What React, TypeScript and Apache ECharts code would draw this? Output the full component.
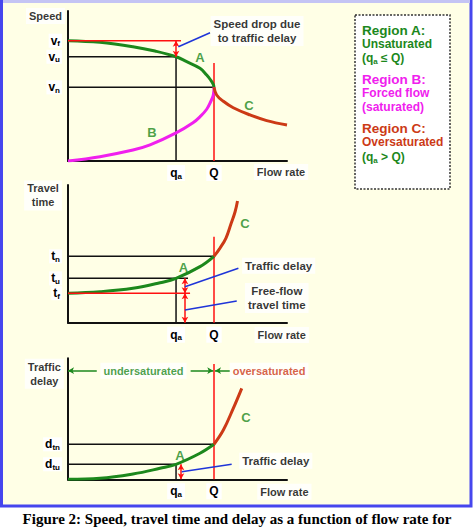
import React, { useEffect, useRef } from 'react';
import * as echarts from 'echarts';

// ---------- data (flow in % of capacity Q, y in % of axis height) ----------
const FLOW_QA = 74;
const FLOW_Q = 100;
const FLOW_MAX = 150;

// speed panel
const speedTickValues = [80.2, 69.5, 49.1]; // v_f, v_u, v_n
const speedTickSubs = ['f', 'u', 'n'];
const speedA = [[0, 80.2], [21.9, 79.1], [44.5, 76.2], [59.6, 73.3], [74, 69.5], [81.3, 66.2], [90.4, 61.8], [95, 57.3], [97.7, 54], [99.5, 51.1], [100, 49.1]];
const speedB = [[0, 0], [21.9, 2.9], [44.5, 7.3], [56.2, 10.7], [74, 18.7], [85.6, 25.5], [90.4, 29.5], [95, 34.5], [97.7, 39.5], [99.5, 44], [100, 49.1]];
const speedC = [[100, 49.1], [101.8, 44], [106.4, 39.8], [113.2, 35.5], [124.7, 30.7], [136.1, 26.9], [150, 24]];

// travel time panel
const travelTickValues = [48.2, 32.2, 21.4]; // t_n, t_u, t_f
const travelTickSubs = ['n', 'u', 'f'];
const travelA = [[0, 21.4], [21.9, 22.5], [44.5, 25], [63, 29], [74, 32.2], [90.4, 40.7], [100, 48.2]];
const travelC = [[100, 48.2], [104.1, 54.2], [108.2, 61.5], [111.6, 71.7], [114.4, 80.4], [116.1, 88.4]];

// delay panel
const delayTickValues = [28.9, 12.4]; // d_tn, d_tu
const delayTickSubs = ['tn', 'tu'];
const delayA = [[0, 0], [21.9, 0.8], [44.5, 4.4], [63, 9.1], [74, 12.4], [90.4, 21.5], [100, 28.9]];
const delayC = [[100, 28.9], [106.4, 40.7], [113.2, 58.6], [119, 75.2]];

// ---------- styles ----------
const FONT = '"Liberation Sans", Arial, Helvetica, sans-serif';
const GREEN = '#1c881c';
const MAGENTA = '#f020ee';
const BROWN = '#cc3a16';
const RED = '#ff1010';
const BLUE = '#1f35d8';
const BLACK = '#111111';
const CREAM = '#ffffe6';

const grids = [
  { left: 68, top: 11, width: 219, height: 150 },
  { left: 68, top: 185, width: 219, height: 137.7 },
  { left: 68, top: 358.3, width: 219, height: 121 },
];

const rich = {
  m: { fontSize: 12, fontWeight: 'bold', color: '#000', fontFamily: FONT, lineHeight: 14 },
  s: { fontSize: 8, fontWeight: 'bold', color: '#000', fontFamily: FONT, lineHeight: 9, verticalAlign: 'bottom' },
};

function tickFormatter(values: number[], base: string, subs: string[]) {
  return (v: number) => {
    let best = 0;
    values.forEach((val, i) => {
      if (Math.abs(val - v) < Math.abs(values[best] - v)) best = i;
    });
    return `{m|${base}}{s|${subs[best]}}`;
  };
}

function seg(gi: number, data: number[][], color: string, width: number, z = 3, extra: any = {}) {
  return {
    type: 'line', xAxisIndex: gi, yAxisIndex: gi, data, symbol: 'none', showSymbol: false,
    lineStyle: { color, width }, z, silent: true, ...extra,
  };
}

function curve(gi: number, data: number[][], color: string) {
  return seg(gi, data, color, 3, 4, { smooth: 0.4 });
}

function arrows(data: any[], color: string, symbol: string[]) {
  return {
    silent: true, symbol, symbolSize: [5, 6], label: { show: false },
    lineStyle: { color, width: 1.5, type: 'solid' }, emphasis: { disabled: true },
    data,
  };
}

function labels(gi: number, items: any[]) {
  return {
    type: 'scatter', xAxisIndex: gi, yAxisIndex: gi, symbolSize: 0, silent: true, clip: false, z: 10,
    data: items.map((it) => ({
      value: [it.x, it.y],
      label: {
        show: true, position: 'inside', formatter: it.text, color: it.color || '#000',
        fontSize: it.size || 11.5, fontWeight: 'bold', fontFamily: FONT, lineHeight: it.lh || 14,
        backgroundColor: it.bg === false ? 'transparent' : '#ffffff', padding: it.bg === false ? 0 : [1, 3],
        align: 'center', verticalAlign: 'middle',
      },
    })),
  };
}

export default function App() {
  const ref = useRef<HTMLDivElement>(null);
  useEffect(() => {
    document.body.style.margin = '0';
    const chart = echarts.init(ref.current!, null, { renderer: 'svg' });

    const xAxes = grids.map((_, gi) => ({
      type: 'value', gridIndex: gi, min: 0, max: FLOW_MAX,
      axisLine: { show: true, onZero: false, lineStyle: { color: BLACK, width: 2 } },
      axisTick: { show: false }, splitLine: { show: false },
      axisLabel: {
        customValues: [FLOW_QA, FLOW_Q], margin: 4, rich,
        backgroundColor: '#fff', padding: [1, 3],
        formatter: (v: number) => (Math.abs(v - FLOW_Q) < 1 ? '{m|Q}' : '{m|q}{s|a}'),
      },
    }));
    const tickSets = [
      [speedTickValues, 'v', speedTickSubs],
      [travelTickValues, 't', travelTickSubs],
      [delayTickValues, 'd', delayTickSubs],
    ] as any[];
    const yAxes = grids.map((_, gi) => ({
      type: 'value', gridIndex: gi, min: 0, max: 100,
      axisLine: { show: true, onZero: false, lineStyle: { color: BLACK, width: 2 } },
      axisTick: { show: false }, splitLine: { show: false },
      axisLabel: {
        customValues: tickSets[gi][0], margin: 6, rich,
        backgroundColor: '#fff', padding: [0, 2],
        formatter: tickFormatter(tickSets[gi][0], tickSets[gi][1], tickSets[gi][2]),
      },
    }));

    const [vf, vu, vn] = speedTickValues;
    const [tn, tu, tf] = travelTickValues;
    const [dtn, dtu] = delayTickValues;

    const series: any[] = [
      // ---- panel 1: speed ----
      seg(0, [[0, vu], [FLOW_QA, vu]], BLACK, 1.5),
      seg(0, [[0, vn], [FLOW_Q, vn]], BLACK, 1.5),
      seg(0, [[FLOW_QA, 0], [FLOW_QA, vu]], BLACK, 1.5),
      seg(0, [[FLOW_Q, 0], [FLOW_Q, 65.3]], RED, 1.5),
      curve(0, speedA, GREEN),
      curve(0, speedB, MAGENTA),
      curve(0, speedC, BROWN),
      seg(0, [[0, vf], [77.4, vf]], RED, 1.5, 5, {
        markLine: arrows([[{ coord: [FLOW_QA, vf] }, { coord: [FLOW_QA, vu] }]], RED, ['arrow', 'arrow']),
      }),
      seg(0, [[75.6, 76.2], [97.3, 85.5]], BLUE, 1.5, 5),
      labels(0, [
        { x: -15.4, y: 96.7, text: 'Speed', size: 11 },
        { x: 145.9, y: -7.3, text: 'Flow rate', size: 11 },
        { x: 129.5, y: 86.7, text: 'Speed drop due\nto traffic delay', size: 11.5 },
        { x: 90.4, y: 69.3, text: 'A', color: GREEN, size: 13, bg: false },
        { x: 57.5, y: 19.3, text: 'B', color: GREEN, size: 13, bg: false },
        { x: 124, y: 36.7, text: 'C', color: GREEN, size: 13, bg: false },
      ]),

      // ---- panel 2: travel time ----
      seg(1, [[0, tn], [FLOW_Q, tn]], BLACK, 1.5),
      seg(1, [[0, tu], [82.2, tu]], BLACK, 1.5),
      seg(1, [[FLOW_QA, 0], [FLOW_QA, tu]], BLACK, 1.5),
      seg(1, [[FLOW_Q, 0], [FLOW_Q, 62.5]], RED, 1.5),
      curve(1, travelA, GREEN),
      curve(1, travelC, BROWN),
      seg(1, [[0, tf], [83.6, tf]], RED, 1.5, 5, {
        markLine: arrows([
          [{ coord: [80.1, tf] }, { coord: [80.1, tu] }],
          [{ coord: [80.1, 0] }, { coord: [80.1, tf] }],
        ], RED, ['arrow', 'arrow']),
      }),
      seg(1, [[80.1, 26.1], [116.7, 39.5]], BLUE, 1.5, 5),
      seg(1, [[80.1, 9.2], [115.6, 15.8]], BLUE, 1.5, 5),
      labels(1, [
        { x: -17.1, y: 92.4, text: 'Travel\ntime', size: 11 },
        { x: 146.4, y: -8.9, text: 'Flow rate', size: 11 },
        { x: 144.3, y: 41.4, text: 'Traffic delay', size: 11.5 },
        { x: 143, y: 17.9, text: 'Free-flow\ntravel time', size: 11.5 },
        { x: 79, y: 39.9, text: 'A', color: GREEN, size: 13, bg: false },
        { x: 121.2, y: 72.2, text: 'C', color: GREEN, size: 13, bg: false },
      ]),

      // ---- panel 3: delay ----
      seg(2, [[0, dtn], [FLOW_Q, dtn]], BLACK, 1.5),
      seg(2, [[0, dtu], [FLOW_QA, dtu]], BLACK, 1.5),
      seg(2, [[FLOW_QA, 0], [FLOW_QA, dtu]], BLACK, 1.5),
      seg(2, [[FLOW_Q, 0], [FLOW_Q, 95.3]], RED, 1.5, 3, {
        markLine: arrows([[{ coord: [77.4, 0] }, { coord: [77.4, dtu] }]], RED, ['arrow', 'arrow']),
      }),
      curve(2, delayA, GREEN),
      curve(2, delayC, BROWN),
      seg(2, [[77.9, 6.3], [112.1, 12.4]], BLUE, 1.5, 5),
      seg(2, [[167.6, 89.8], [173.1, 89.8]], GREEN, 1.5, 5, {
        clip: false,
        markLine: arrows([
          [{ coord: [0, 89.8] }, { coord: [19.7, 89.8] }],
          [{ coord: [100.7, 89.8] }, { coord: [111, 89.8] }],
        ], GREEN, ['arrow', 'none']),
      }),
      seg(2, [[84, 89.8], [84.01, 89.8]], GREEN, 0.1, 5, {
        markLine: arrows([[{ coord: [84, 89.8] }, { coord: [99.5, 89.8] }]], GREEN, ['none', 'arrow']),
      }),
      labels(2, [
        { x: -16.2, y: 87.3, text: 'Traffic\ndelay', size: 11 },
        { x: 148.2, y: -10.2, text: 'Flow rate', size: 11 },
        { x: 142.3, y: 15.4, text: 'Traffic delay', size: 11.5 },
        { x: 51.7, y: 89.8, text: 'undersaturated', color: GREEN, size: 11 },
        { x: 137.7, y: 89.8, text: 'oversaturated', color: BROWN, size: 11 },
        { x: 76.7, y: 19.5, text: 'A', color: GREEN, size: 13, bg: false },
        { x: 121.9, y: 51.2, text: 'C', color: GREEN, size: 13, bg: false },
      ]),
    ];

    const regionText = (y: number, text: string, color: string, size: number) => ({
      type: 'text', x: 362, y, z: 20,
      style: {
        text, fill: color, fontSize: size, fontWeight: 'bold', fontFamily: FONT,
        verticalAlign: 'middle', align: 'left',
        rich: {
          m: { fill: color, fontSize: size, fontWeight: 'bold', fontFamily: FONT, lineHeight: 14 },
          s: { fill: color, fontSize: 8, fontWeight: 'bold', fontFamily: FONT, lineHeight: 9, verticalAlign: 'bottom' },
        },
      },
    });

    chart.setOption({
      animation: false,
      grid: grids,
      xAxis: xAxes,
      yAxis: yAxes,
      series,
      graphic: [
        {
          type: 'rect', z: -10, silent: true,
          shape: { x: 1.5, y: -1, width: 469.5, height: 507 },
          style: { fill: CREAM, stroke: '#4646ee', lineWidth: 3 },
        },
        { type: 'rect', z: -9, silent: true, shape: { x: 3, y: 0, width: 467, height: 3 }, style: { fill: '#c4c4f4' } },
        {
          type: 'rect', z: 15, silent: true,
          shape: { x: 355, y: 15, width: 95, height: 174 },
          style: { fill: '#ffffff', stroke: '#333', lineWidth: 1.5, lineDash: [2, 1.5] },
        },
        regionText(30, 'Region A:', GREEN, 13.5),
        regionText(44, 'Unsaturated', GREEN, 12),
        regionText(58, '{m|(q}{s|a}{m| ≤ Q)}', GREEN, 12),
        regionText(79, 'Region B:', MAGENTA, 13.5),
        regionText(93, 'Forced flow', MAGENTA, 12),
        regionText(107, '(saturated)', MAGENTA, 12),
        regionText(128, 'Region C:', BROWN, 13.5),
        regionText(142, 'Oversaturated', BROWN, 12),
        regionText(157, '{m|(q}{s|a}{m| > Q)}', GREEN, 12),
        {
          type: 'text', x: 237, y: 526, z: 20,
          style: {
            text: 'Figure 2: Speed, travel time and delay as a function of flow rate for',
            fill: '#000', fontSize: 15, fontWeight: 'bold', fontFamily: '"Liberation Serif", "Times New Roman", serif',
            align: 'center', verticalAlign: 'bottom',
          },
        },
      ],
    });
    return () => chart.dispose();
  }, []);
  return <div ref={ref} style={{ width: 474, height: 527 }} />;
}
